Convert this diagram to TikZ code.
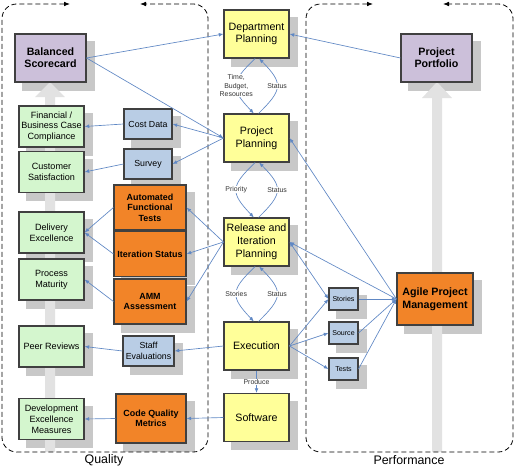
\documentclass[tikz,border=0pt]{standalone}
\usepackage{fontspec}
\setmainfont{Liberation Sans}
\usetikzlibrary
  {
    arrows.meta,  % arrow tips
    backgrounds,  % shadows and gray arrows behind the boxes
  }

\begin{document}
\begin{tikzpicture}
    [
      x=0.75pt, y=-0.75pt,
      % Styles
      >={Latex[length=3.5pt,width=2.8pt]},
      box/.style={draw=black!75, line width=0.8pt, align=center, inner sep=1pt},
      planbox/.style={box, fill=plancolor, minimum width=48.75pt, minimum height=36pt, font=\fontsize{8}{9.6}\selectfont},
      goalbox/.style={box, fill=goalcolor, minimum width=53.25pt, minimum height=36pt, font=\bfseries\fontsize{8}{9.2}\selectfont},
      measurebox/.style={box, fill=measurecolor, minimum width=48.75pt, minimum height=30.75pt, font=\fontsize{6.8}{8.1}\selectfont},
      databox/.style={box, fill=datacolor, minimum width=36pt, minimum height=22.5pt, font=\fontsize{6.6}{7.9}\selectfont},
      metricbox/.style={box, fill=metriccolor, minimum width=54pt, minimum height=33.75pt, font=\bfseries\fontsize{6.7}{7.8}\selectfont},
      artifactbox/.style={box, fill=datacolor, minimum width=21.75pt, minimum height=16.5pt, inner sep=0.5pt, font=\fontsize{5.3}{6}\selectfont},
      connector/.style={->, draw=linkcolor, line width=0.5pt},
      loop/.style={connector, bend right=45, looseness=1.6},
      flow label/.style={fill=white, inner sep=0.5pt, align=center, text=black!80, font=\fontsize{5.2}{6.2}\selectfont},
      zone/.style={{Latex[length=4.5pt,width=3.5pt]}-{Latex[length=4.5pt,width=3.5pt]}, dash pattern=on 3.75pt off 2.25pt, line width=0.6pt, rounded corners=11pt},
      zone title/.style={font=\fontsize{9.3}{11}\selectfont},
      box shadow/.style={fill=shadowcolor},
      backbone/.style={fill=backbonecolor}
    ]

    % Colors
    \definecolor{plancolor}{RGB}{255,255,153}
    \definecolor{goalcolor}{RGB}{204,192,218}
    \definecolor{measurecolor}{RGB}{212,246,206}
    \definecolor{datacolor}{RGB}{185,205,229}
    \definecolor{metriccolor}{RGB}{242,132,40}
    \definecolor{linkcolor}{RGB}{96,136,196}
    \definecolor{shadowcolor}{RGB}{200,200,200}
    \definecolor{backbonecolor}{RGB}{226,226,226}

    \useasboundingbox (0,0) rectangle (515,468);

    % Zones
    \draw [zone] (70,4) -- (2,4) -- (2,452) -- (208,452) -- (208,4) -- (140,4);
    \draw [zone] (373,4) -- (306,4) -- (306,452) -- (513,452) -- (513,4) -- (443,4);
    \node [zone title] (quality) at (104,460) {Quality};
    \node [zone title] (performance) at (409,460) {Performance};

    % Planning column
    \node [planbox] (dept) at (256.5,34) {Department\\Planning};
    \node [planbox] (project) at (256.5,138) {Project\\Planning};
    \node [planbox] (release) at (256.5,242) {Release and\\Iteration\\Planning};
    \node [planbox] (execution) at (256.5,346) {Execution};
    \node [planbox] (software) at (256.5,417.5) {Software};

    % Quality side
    \node [goalbox] (scorecard) at (50.5,58) {Balanced\\Scorecard};
    \node [measurebox] (financial) at (51.5,126.5) {Financial /\\Business Case\\Compliance};
    \node [measurebox] (customer) at (51.5,172) {Customer\\Satisfaction};
    \node [measurebox] (delivery) at (51.5,232.5) {Delivery\\Excellence};
    \node [measurebox] (maturity) at (51.5,279.5) {Process\\Maturity};
    \node [measurebox] (peer) at (51.5,346.5) {Peer Reviews};
    \node [measurebox] (devmeasures) at (51.5,419) {Development\\Excellence\\Measures};

    \node [databox] (cost) at (148,124) {Cost Data};
    \node [databox] (survey) at (148,164) {Survey};
    \node [metricbox] (aft) at (150,207.5) {Automated\\Functional\\Tests};
    \node [metricbox] (iteration) at (150,254) {Iteration Status};
    \node [metricbox] (amm) at (150,301.5) {AMM\\Assessment};
    \node [databox, minimum width=38.25pt] (staff) at (148.5,351) {Staff\\Evaluations};
    \node [metricbox, minimum width=52.5pt, minimum height=36.75pt] (codequality) at (151,418.5) {Code Quality\\Metrics};

    % Performance side
    \node [goalbox] (portfolio) at (436.5,58) {Project\\Portfolio};
    \node [metricbox, minimum width=57pt, minimum height=39pt, font=\bfseries\fontsize{8}{9.4}\selectfont] (apm) at (435,299) {Agile Project\\Management};
    \node [artifactbox] (stories) at (343.5,299) {Stories};
    \node [artifactbox] (source) at (343.5,333) {Source};
    \node [artifactbox] (tests) at (343.5,369) {Tests};

    % Planning loops
    \draw [loop] ([xshift=-1pt]dept.south) to node [flow label] {Time,\\Budget,\\Resources} ([xshift=-2pt]project.north);
    \draw [loop] ([xshift=1.5pt]project.north) to node [flow label] {Status} ([xshift=2pt]dept.south);
    \draw [loop] ([xshift=-1pt]project.south) to node [flow label] {Priority} ([xshift=-2pt]release.north);
    \draw [loop] ([xshift=1.5pt]release.north) to node [flow label] {Status} ([xshift=2pt]project.south);
    \draw [loop] ([xshift=-1pt]release.south) to node [flow label] {Stories} ([xshift=-2pt]execution.north);
    \draw [loop] ([xshift=1.5pt]execution.north) to node [flow label] {Status} ([xshift=2pt]release.south);
    \draw [connector] (execution) -- node [flow label] {Produce} (software);

    % Links to the left
    \foreach \src/\dst in {portfolio/dept, project/cost, project/survey, cost/financial,
                           survey/customer, aft/delivery, iteration/delivery, amm/maturity,
                           release/aft, release/iteration, release/amm, execution/staff,
                           staff/peer, software/codequality, codequality/devmeasures,
                           apm/project, apm/release}
    {
      \draw [connector] (\src.west) -- (\dst.east);
    }

    % Links to the right
    \foreach \src/\dst in {scorecard/dept, scorecard/project, execution/stories,
                           execution/source, execution/tests, stories/apm, source/apm, tests/apm}
    {
      \draw [connector] (\src.east) -- (\dst.west);
    }
    \draw [connector, <->] (release.east) -- (stories.west);

    % Shadows and gray arrows
    \begin{scope}[on background layer]
      \foreach \nd in {dept, project, release, execution, software, scorecard, financial,
                       customer, delivery, maturity, peer, devmeasures, cost, survey, aft,
                       iteration, amm, staff, codequality, portfolio, apm, stories, source, tests}
      {
        \fill [box shadow] ([xshift=6pt, yshift=-6pt]\nd.south west) rectangle ([xshift=6pt, yshift=-6pt]\nd.north east);
      }
      \fill [backbone] (45,452) -- (45,97) -- (35,97) -- (50,82) -- (65,97) -- (55,97) -- (55,452) -- cycle;
      \fill [backbone] (432,452) -- (432,98) -- (422,98) -- (437,82) -- (452,98) -- (442,98) -- (442,452) -- cycle;
    \end{scope}
  \end{tikzpicture}
\end{document}
